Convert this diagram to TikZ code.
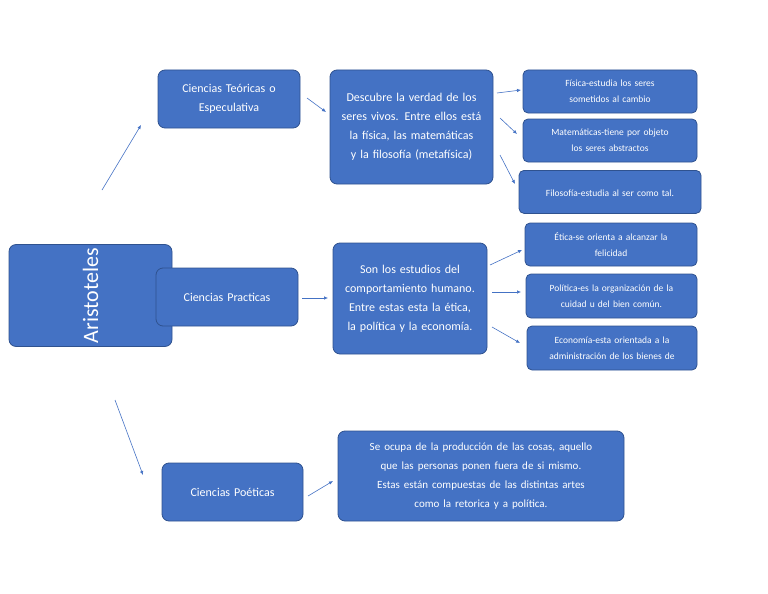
\documentclass[tikz,border=0pt]{standalone}
\usepackage{fontspec}
\setmainfont{Carlito}
\usetikzlibrary{arrows.meta}
\definecolor{fillb}{HTML}{4472C4}
\definecolor{edgeb}{HTML}{2F528F}
\begin{document}
\begin{tikzpicture}[x=1pt,y=-1pt,
  box/.style={draw=edgeb,line width=0.8pt,fill=fillb,rounded corners=7pt,text=white,align=center,font=\fontsize{12}{19}\selectfont},
  sbox/.style={box,font=\fontsize{9.5}{16}\selectfont,rounded corners=5pt},
  arr/.style={draw=fillb,line width=0.6pt,-{Latex[length=4pt,width=3.5pt]}}]
\useasboundingbox (0,0) rectangle (768,594);
\newcommand{\bx}[7][box]{\node[#1,minimum width=#4-#2,minimum height=#5-#3,text width=#4-#2-10] (#6) at ({(#2+#4)/2},{(#3+#5)/2}) {#7};}
\node[box,minimum width=75,minimum height=163,rotate=90,font=\fontsize{22}{26}\selectfont] (ar) at (90.5,295.5) {Aristoteles};
\bx{158}{70}{300}{128}{teo}{Ciencias Teóricas o\\Especulativa}
\bx{330}{70}{493}{184}{desc}{Descubre la verdad de los seres vivos. Entre ellos está la física, las matemáticas y la filosofía (metafísica)}
\bx{156}{268}{298}{326}{pra}{Ciencias Practicas}
\bx{333}{243}{487}{354}{son}{Son los estudios del comportamiento humano. Entre estas esta la ética, la política y la economía.}
\bx{162}{463}{303}{521}{poe}{Ciencias Poéticas}
\bx{338}{431}{624}{521}{se}{\fontsize{11}{19}\selectfont Se ocupa de la producción de las cosas, aquello\\que las personas ponen fuera de si mismo.\\Estas están compuestas de las distintas artes\\como la retorica y a política.}
\bx[sbox]{523}{70}{697}{113}{fis}{Física-estudia los seres\\sometidos al cambio}
\bx[sbox]{523}{119}{697}{162}{mat}{Matemáticas-tiene por objeto\\los seres abstractos}
\node[sbox,minimum width=174,minimum height=43,text width=164,anchor=north,text height=10pt,inner sep=9pt] (fil) at (610,170) {Filosofía-estudia al ser como tal.};
\bx[sbox]{525}{223}{697}{266}{eti}{Ética-se orienta a alcanzar la\\felicidad}
\bx[sbox]{526}{274}{697}{318}{pol}{Política-es la organización de la\\cuidad u del bien común.}
\bx[sbox]{527}{326}{697}{370}{eco}{Economía-esta orientada a la\\administración de los bienes de}
\coordinate (a1) at (102,190); \coordinate (b1) at (141,125);
\coordinate (a2) at (135,293); \coordinate (b2) at (150,293);
\coordinate (a3) at (115,400); \coordinate (b3) at (143,475);
\coordinate (a4) at (307,98); \coordinate (b4) at (326,112);
\coordinate (a5) at (302,298); \coordinate (b5) at (328,298);
\coordinate (a6) at (308,496); \coordinate (b6) at (333,481);
\coordinate (a7) at (497,93); \coordinate (b7) at (521,90);
\coordinate (a8) at (500,118); \coordinate (b8) at (517,134);
\coordinate (a9) at (500,155); \coordinate (b9) at (515,184);
\coordinate (a10) at (490,265); \coordinate (b10) at (522,250);
\coordinate (a11) at (492,292); \coordinate (b11) at (521,292);
\coordinate (a12) at (492,327); \coordinate (b12) at (520,343);
\foreach \i in {1,...,12} {\draw[arr] (a\i) -- (b\i);}
\end{tikzpicture}
\end{document}
